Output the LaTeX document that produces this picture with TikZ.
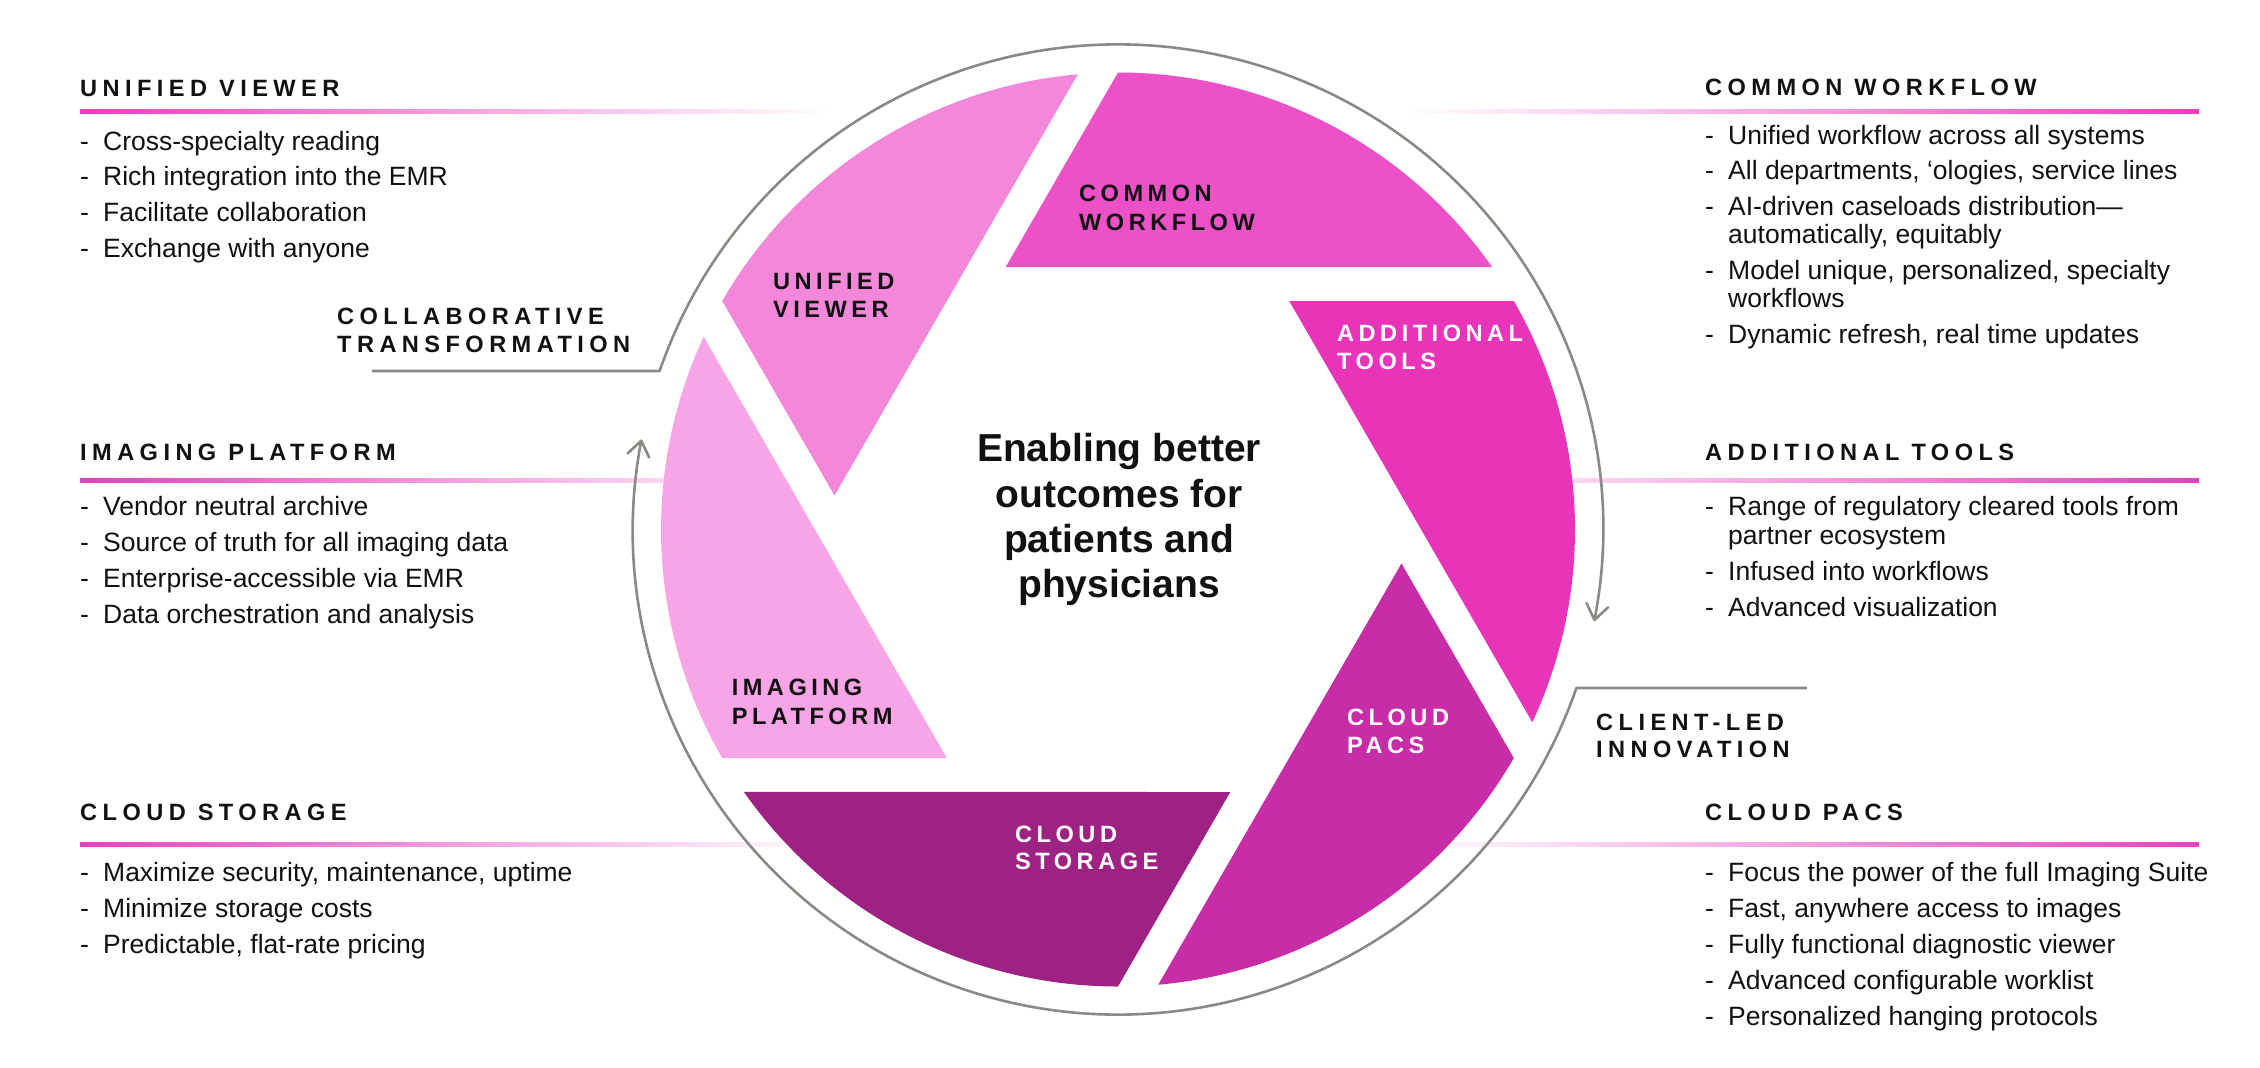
\documentclass[tikz,border=0pt]{standalone}
\usepackage{fontspec}
\setmainfont{Liberation Sans}
\newfontfamily\trackfont{Liberation Sans}[LetterSpace=23]
\newfontfamily\bladefont{Liberation Sans}[LetterSpace=19]
\usetikzlibrary{arrows.meta}
\definecolor{cUV}{HTML}{F387DA}
\definecolor{cCW}{HTML}{EC51C8}
\definecolor{cAT}{HTML}{E734B9}
\definecolor{cCP}{HTML}{C82DA8}
\definecolor{cCS}{HTML}{9E2283}
\definecolor{cIP}{HTML}{F7A5E6}
\definecolor{cLine}{HTML}{E940BE}
\definecolor{cRing}{HTML}{8C8985}
\definecolor{cText}{HTML}{111111}
\newcommand\dashitem[1]{\makebox[23pt][l]{-}#1}
\tikzset{
  body/.style={anchor=base west, inner sep=0pt, text=cText, font=\fontsize{26.5}{30}\selectfont},
  head/.style={anchor=base west, inner sep=0pt, text=cText, font=\trackfont\bfseries\fontsize{23.6}{28}\selectfont},
  blab/.style={anchor=base west, inner sep=0pt, text=cText, font=\bladefont\bfseries\fontsize{23.6}{28}\selectfont},
  wlab/.style={blab, text=white},
  mid/.style={anchor=base, inner sep=0pt, text=cText, font=\bfseries\fontsize{39}{45}\selectfont},
  ring/.style={draw=cRing, line width=2.6pt, line join=round, -{Straight Barb[length=15pt,width=22pt,round]}},
  ruleL/.style={left color=cLine, right color=white},
  ruleR/.style={left color=white, right color=cLine},
}
\begin{document}
\begin{tikzpicture}[x=1pt,y=-1pt]
\useasboundingbox (0,0) rectangle (2260,1068);
\fill[white] (0,0) rectangle (2260,1068);

% gradient rules under headings
\shade[ruleL] (80,109.5) rectangle (830,113.5);
\shade[ruleL] (80,478) rectangle (830,482);
\shade[ruleL] (80,842) rectangle (830,846);
\shade[ruleR] (1405,109.5) rectangle (2199,113.5);
\shade[ruleR] (1405,478) rectangle (2199,482);
\shade[ruleR] (1405,842) rectangle (2199,846);

\coordinate (collEnd) at (372,371);
\coordinate (clientEnd) at (1807,688);

\begin{scope}[shift={(1118,529.5)}, x=1pt, y=1pt]
  \fill[white] (0,0) circle[radius=457];
  \foreach \k/\c in {0/cCW,1/cAT,2/cCP,3/cCS,4/cIP,5/cUV}{
    \fill[\c, rotate=-60*\k] (-112.29,262.5) -- (90:457)
      arc[start angle=90, end angle=35.05, radius=457] -- cycle;
  }
  \draw[ring] (collEnd) -- (160.93:485) arc[start angle=160.93, end angle=-10.9, radius=485];
  \draw[ring] (clientEnd) -- (-19.07:485) arc[start angle=-19.07, end angle=-190.7, radius=485];
\end{scope}

% blade labels
\node[blab] (lCW1) at (1079,201.7) {COMMON};
\node[blab] (lCW2) at (1079,230) {WORKFLOW};
\node[blab] (lUV1) at (773,289) {UNIFIED};
\node[blab] (lUV2) at (773,317.7) {VIEWER};
\node[wlab] (lAT1) at (1337,341.7) {ADDITIONAL};
\node[wlab] (lAT2) at (1337,369) {TOOLS};
\node[blab] (lIP1) at (731.6,695.6) {IMAGING};
\node[blab] (lIP2) at (731.6,724) {PLATFORM};
\node[wlab] (lCS1) at (1015,842) {CLOUD};
\node[wlab] (lCS2) at (1015,869.5) {STORAGE};
\node[wlab] (lCP1) at (1347,725.6) {CLOUD};
\node[wlab] (lCP2) at (1347,753.5) {PACS};

% centre text
\node[mid] (m1) at (1119,461.7) {Enabling better};
\node[mid] (m2) at (1119,507) {outcomes for};
\node[mid] (m3) at (1119,552.5) {patients and};
\node[mid] (m4) at (1119,597.5) {physicians};

% left column
\node[head] (hUV) at (80,96) {UNIFIED VIEWER};
\node[body] (uv1) at (80,150) {\dashitem{Cross-specialty reading}};
\node[body] (uv2) at (80,185.7) {\dashitem{Rich integration into the EMR}};
\node[body] (uv3) at (80,221.7) {\dashitem{Facilitate collaboration}};
\node[body] (uv4) at (80,257.3) {\dashitem{Exchange with anyone}};

\node[head] (hColl1) at (337,324) {COLLABORATIVE};
\node[head] (hColl2) at (337,352) {TRANSFORMATION};

\node[head] (hIP) at (80,460) {IMAGING PLATFORM};
\node[body] (ip1) at (80,515.7) {\dashitem{Vendor neutral archive}};
\node[body] (ip2) at (80,551.7) {\dashitem{Source of truth for all imaging data}};
\node[body] (ip3) at (80,587.7) {\dashitem{Enterprise-accessible via EMR}};
\node[body] (ip4) at (80,623.3) {\dashitem{Data orchestration and analysis}};

\node[head] (hCS) at (80,820) {CLOUD STORAGE};
\node[body] (cs1) at (80,881.7) {\dashitem{Maximize security, maintenance, uptime}};
\node[body] (cs2) at (80,917.3) {\dashitem{Minimize storage costs}};
\node[body] (cs3) at (80,953.3) {\dashitem{Predictable, flat-rate pricing}};

% right column
\node[head] (hCW) at (1705,95) {COMMON WORKFLOW};
\node[body] (cw1) at (1705,144) {\dashitem{Unified workflow across all systems}};
\node[body] (cw2) at (1705,179.3) {\dashitem{All departments, ‘ologies, service lines}};
\node[body] (cw3) at (1705,215) {\dashitem{AI-driven caseloads distribution—}};
\node[body] (cw3b) at (1728,243.3) {automatically, equitably};
\node[body] (cw4) at (1705,279.3) {\dashitem{Model unique, personalized, specialty}};
\node[body] (cw4b) at (1728,307.3) {workflows};
\node[body] (cw5) at (1705,343.3) {\dashitem{Dynamic refresh, real time updates}};

\node[head] (hAT) at (1705,460) {ADDITIONAL TOOLS};
\node[body] (at1) at (1705,515.7) {\dashitem{Range of regulatory cleared tools from}};
\node[body] (at1b) at (1728,544) {partner ecosystem};
\node[body] (at2) at (1705,580) {\dashitem{Infused into workflows}};
\node[body] (at3) at (1705,616) {\dashitem{Advanced visualization}};

\node[head] (hCL1) at (1596,730) {CLIENT-LED};
\node[head] (hCL2) at (1596,757) {INNOVATION};

\node[head] (hCP) at (1705,820) {CLOUD PACS};
\node[body] (cp1) at (1705,881.7) {\dashitem{Focus the power of the full Imaging Suite}};
\node[body] (cp2) at (1705,917.3) {\dashitem{Fast, anywhere access to images}};
\node[body] (cp3) at (1705,953.3) {\dashitem{Fully functional diagnostic viewer}};
\node[body] (cp4) at (1705,989.3) {\dashitem{Advanced configurable worklist}};
\node[body] (cp5) at (1705,1025) {\dashitem{Personalized hanging protocols}};
\end{tikzpicture}
\end{document}
